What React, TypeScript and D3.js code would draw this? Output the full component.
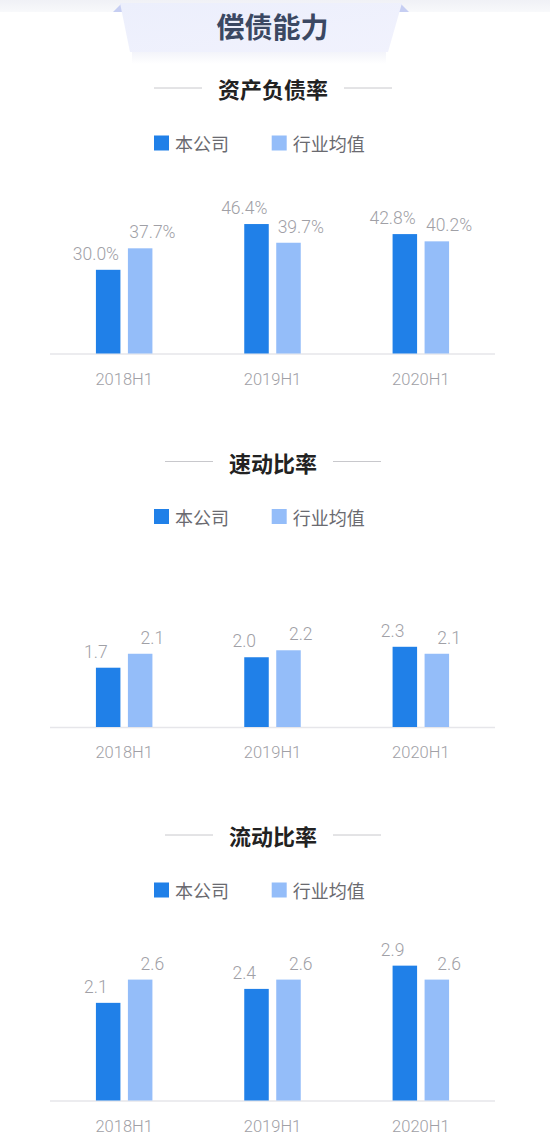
import React from "react";
import * as d3 from "d3";

const categories = ["2018H1", "2019H1", "2020H1"];
const seriesNames = ["本公司", "行业均值"];
const chartTitles = ["资产负债率", "速动比率", "流动比率"];
const debtRatioCompany = [30.0, 46.4, 42.8];
const debtRatioIndustry = [37.7, 39.7, 40.2];
const quickRatioCompany = [1.7, 2.0, 2.3];
const quickRatioIndustry = [2.1, 2.2, 2.1];
const currentRatioCompany = [2.1, 2.4, 2.9];
const currentRatioIndustry = [2.6, 2.6, 2.6];
const axisMax = [50, 4, 3];
const valueSuffix = ["%", "", ""];

const W = 550;
const H = 1148;
const CX = 273;
const COLORS = ["#2080e8", "#94bdf9"];
const LABEL_GRAY = "#a0a0a6";
const CJK = "'Noto Sans CJK SC', 'Noto Sans', sans-serif";
const NUM = "Roboto, 'Noto Sans CJK SC', sans-serif";
const TITLE_SIZE = 22;

const charts = [
  { title: chartTitles[0], series: [debtRatioCompany, debtRatioIndustry], max: axisMax[0], suffix: valueSuffix[0] },
  { title: chartTitles[1], series: [quickRatioCompany, quickRatioIndustry], max: axisMax[1], suffix: valueSuffix[1] },
  { title: chartTitles[2], series: [currentRatioCompany, currentRatioIndustry], max: axisMax[2], suffix: valueSuffix[2] },
];
const tops = [88, 461.5, 835];

function Chart({ top, cfg }: { top: number; cfg: any }) {
  const baseline = top + 265.5;
  const x = d3.scaleBand<string>().domain(categories).range([50, 495]).padding(0);
  const y = d3.scaleLinear().domain([0, cfg.max]).range([baseline, baseline - 139.5]);
  const titleHalf = (cfg.title.length * TITLE_SIZE) / 2;
  return (
    <g>
      <line x1={CX - titleHalf - 16 - 48} x2={CX - titleHalf - 16} y1={top} y2={top} stroke="#c8c8cc" strokeWidth={1} />
      <line x1={CX + titleHalf + 16} x2={CX + titleHalf + 16 + 48} y1={top} y2={top} stroke="#c8c8cc" strokeWidth={1} />
      <text x={CX} y={top} textAnchor="middle" dominantBaseline="central" fontFamily={CJK} fontWeight={700} fontSize={TITLE_SIZE} fill="#222">
        {cfg.title}
      </text>
      {seriesNames.map((name, i) => {
        const lx = i === 0 ? 154 : 271.7;
        const ly = top + 55;
        return (
          <g key={name}>
            <rect x={lx} y={ly - 7.5} width={15} height={15} fill={COLORS[i]} />
            <text x={lx + 21} y={ly} dominantBaseline="central" fontFamily={CJK} fontSize={18} fill="#6a6a70">
              {name}
            </text>
          </g>
        );
      })}
      <line x1={50} x2={495} y1={baseline + 0.5} y2={baseline + 0.5} stroke="#e6e6ea" strokeWidth={1.5} />
      {categories.map((cat, ci) => {
        const cx = (x(cat) as number) + x.bandwidth() / 2;
        const inner = d3.scaleBand<number>().domain([0, 1]).range([cx - 28.25, cx + 28.25]).paddingInner(0.234);
        return (
          <g key={cat}>
            {cfg.series.map((vals: number[], si: number) => {
              const v = vals[ci];
              const bx = inner(si) as number;
              const bw = inner.bandwidth();
              const lx = si === 0 ? bx : bx + bw;
              return (
                <g key={si}>
                  <rect x={bx} y={y(v)} width={bw} height={baseline - y(v)} fill={COLORS[si]} />
                  <text x={lx} y={y(v) - 10} textAnchor="middle" fontFamily={NUM} fontWeight={300} fontSize={17.5} fill={LABEL_GRAY}>
                    {v.toFixed(1) + cfg.suffix}
                  </text>
                </g>
              );
            })}
            <text x={cx} y={baseline + 31} textAnchor="middle" fontFamily={NUM} fontWeight={300} fontSize={16.5} fill={LABEL_GRAY}>
              {cat}
            </text>
          </g>
        );
      })}
    </g>
  );
}

export default function App() {
  return (
    <svg width={W} height={H} style={{ position: "absolute", left: 0, top: 0, background: "#fff" }}>
      <defs>
        <linearGradient id="topband" x1="0" y1="0" x2="0" y2="1">
          <stop offset="0" stopColor="#f0f1f6" />
          <stop offset="1" stopColor="#f8f9fb" />
        </linearGradient>
        <linearGradient id="banner" x1="0" y1="0" x2="1" y2="1">
          <stop offset="0" stopColor="#eceffc" />
          <stop offset="1" stopColor="#f1f2fd" />
        </linearGradient>
        <linearGradient id="shadow" x1="0" y1="0" x2="0" y2="1">
          <stop offset="0" stopColor="#f3f4fa" />
          <stop offset="1" stopColor="#ffffff" />
        </linearGradient>
      </defs>
      <rect x={0} y={0} width={W} height={12} fill="url(#topband)" />
      <rect x={132} y={52} width={254} height={12} fill="url(#shadow)" />
      <polygon points="113,12 122,3 125,12" fill="#c6cef2" />
      <polygon points="397,12 400,3 409,12" fill="#c6cef2" />
      <polygon points="120,3 402,3 388,52 130,52" fill="url(#banner)" />
      <text x={272.5} y={26} textAnchor="middle" dominantBaseline="central" fontFamily={CJK} fontWeight={700} fontSize={28} fill="#3b4862">
        偿债能力
      </text>
      {charts.map((cfg, i) => (
        <Chart key={i} top={tops[i]} cfg={cfg} />
      ))}
    </svg>
  );
}
